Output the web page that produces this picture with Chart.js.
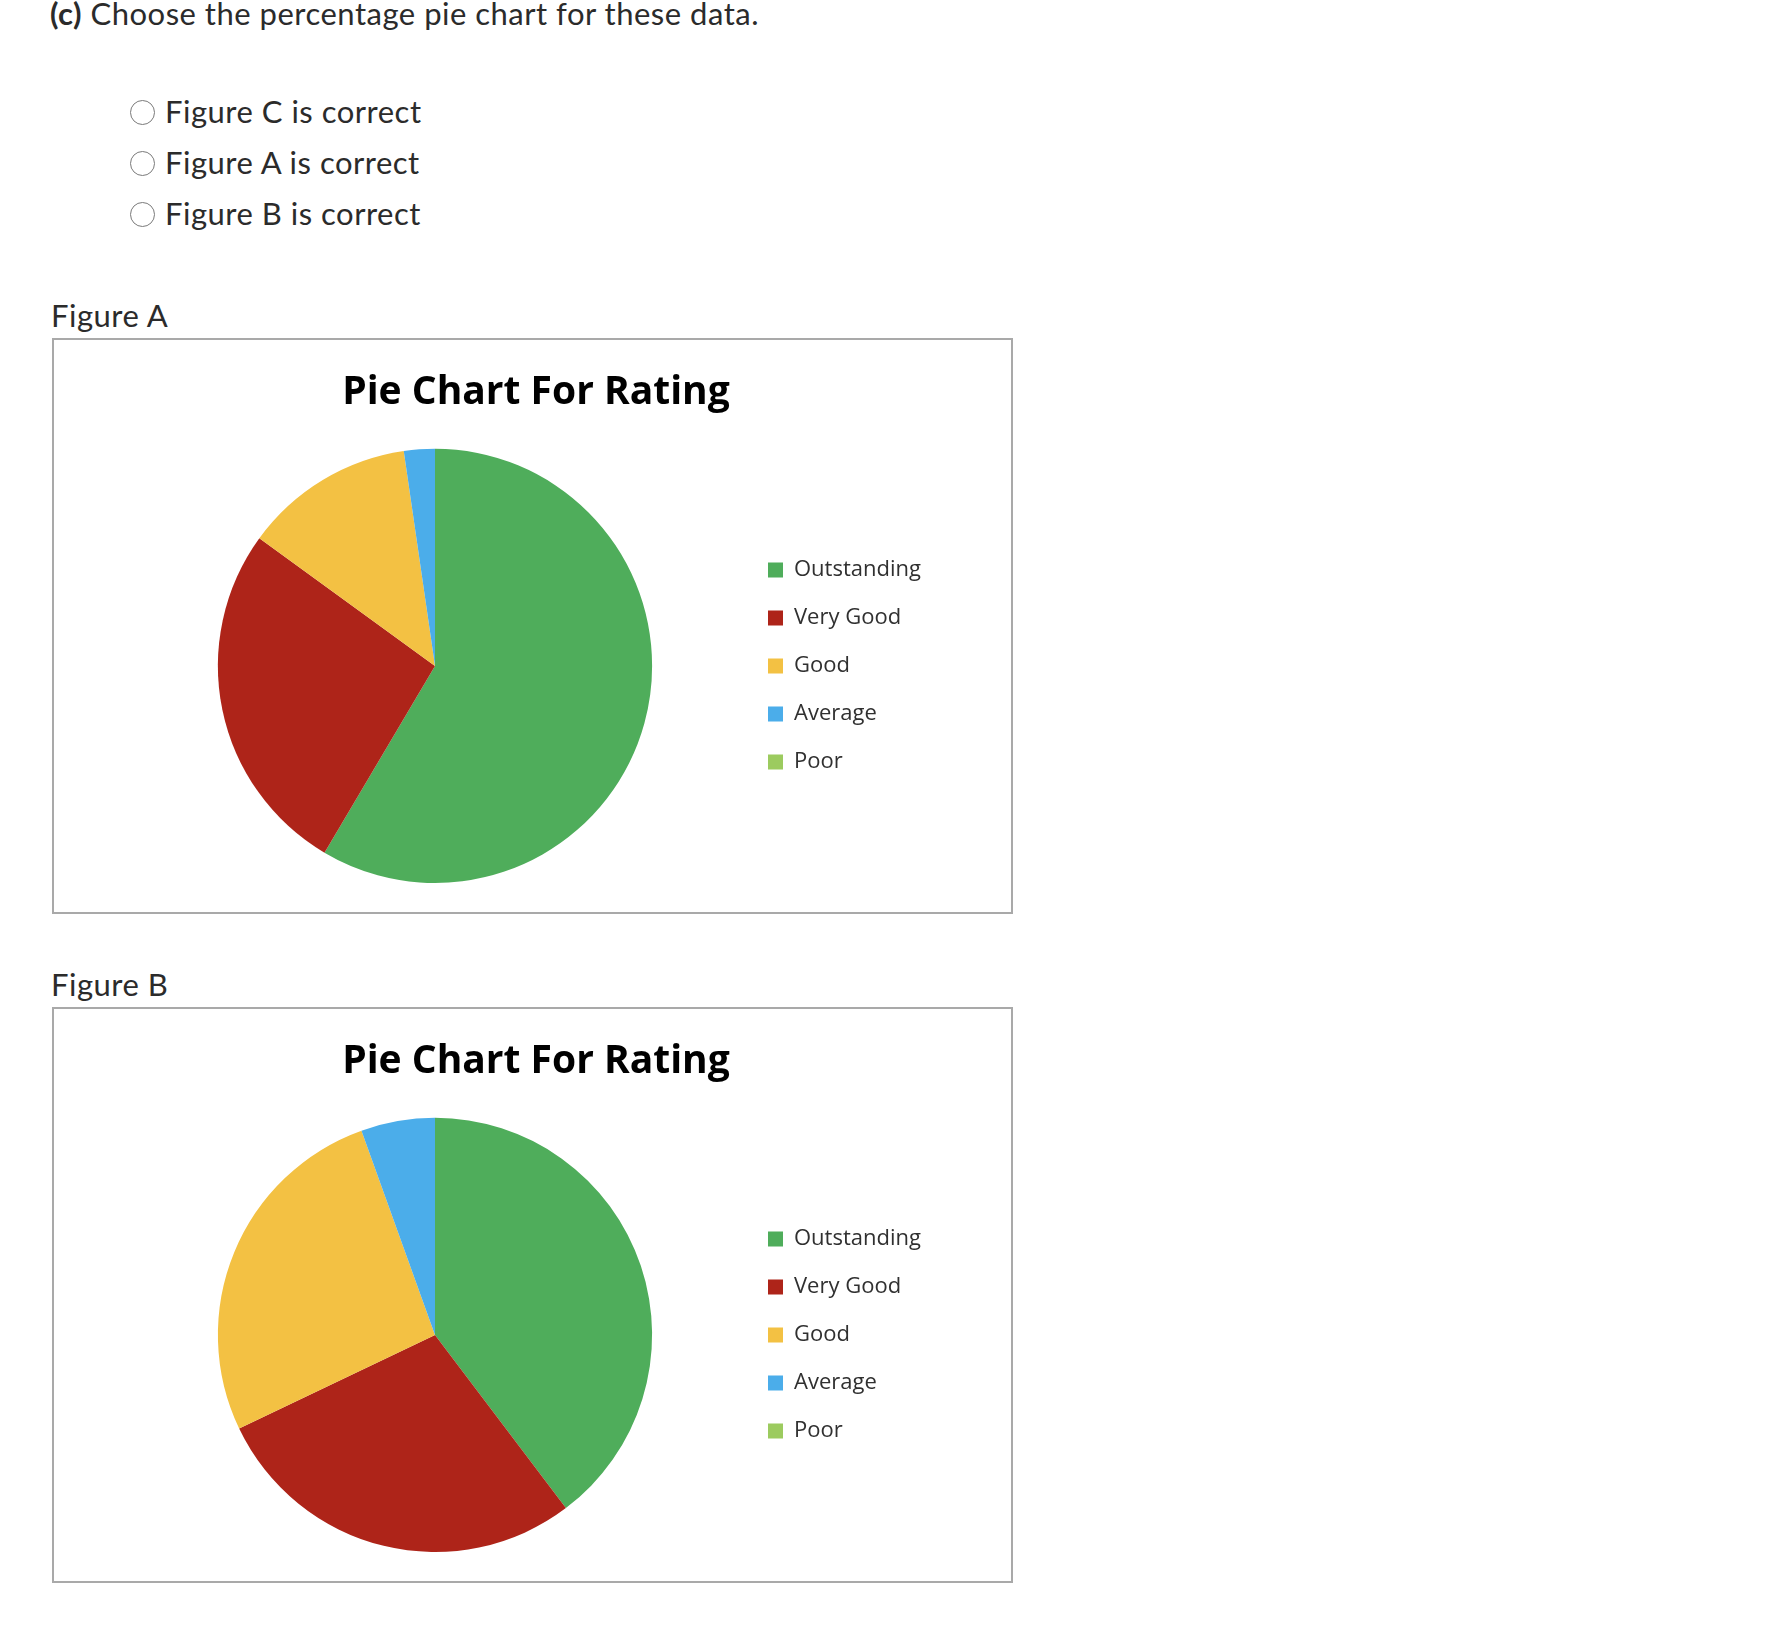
<!DOCTYPE html>
<html>
<head>
<meta charset="utf-8">
<script src="https://cdn.jsdelivr.net/npm/chart.js@4.4.0/dist/chart.umd.min.js"></script>
<style>
  body { margin: 0; background: #fff; width: 1780px; height: 1642px; position: relative; overflow: hidden; font-family: Lato, "Open Sans", sans-serif; color: #2b2b2b; }
  .txt { position: absolute; font-size: 31px; line-height: 31px; letter-spacing: 0.5px; white-space: nowrap; }
  .radio { position: absolute; width: 25px; height: 25px; box-sizing: border-box; border: 1.5px solid #7a7a7a; border-radius: 50%; }
  .box { position: absolute; left: 52px; width: 961px; height: 576px; box-sizing: border-box; border: 2px solid #a9a9a9; }
  .box canvas { position: absolute; left: 0; top: 0; }
</style>
</head>
<body>

<div class="txt" style="left:50px; top:-2px;"><b>(c)</b> Choose the percentage pie chart for these data.</div>

<div class="radio" style="left:130px; top:100px;"></div>
<div class="txt" style="left:165px; top:96px;">Figure C is correct</div>
<div class="radio" style="left:130px; top:151px;"></div>
<div class="txt" style="left:165px; top:147px;">Figure A is correct</div>
<div class="radio" style="left:130px; top:202px;"></div>
<div class="txt" style="left:165px; top:198px;">Figure B is correct</div>

<div class="txt" style="left:51px; top:300px;">Figure A</div>
<div class="box" style="top:338px;"><canvas id="chartA" width="957" height="572"></canvas></div>

<div class="txt" style="left:51px; top:969px;">Figure B</div>
<div class="box" style="top:1007px;"><canvas id="chartB" width="957" height="572"></canvas></div>

<script>
// categorias y colores (estilo Excel)
const ratings = ['Outstanding', 'Very Good', 'Good', 'Average', 'Poor'];
const ratingColors = ['#4fad5b', '#ae2419', '#f3c143', '#4badea', '#9ccb5f'];

const figureA = [58.5, 26.5, 12.7, 2.3, 0];
const figureB = [39.7, 28.2, 26.6, 5.5, 0];

const chartTitle = 'Pie Chart For Rating';

// ancho fijo para la leyenda, asi el pastel queda donde toca
const legendWidth = {
  id: 'legendWidth',
  beforeInit(chart) {
    const fitOriginal = chart.legend.fit;
    chart.legend.fit = function () {
      fitOriginal.call(this);
      this.width = 202;
    };
  }
};

function crearGrafica(id, valores) {
  const ctx = document.getElementById(id);
  return new Chart(ctx, {
    type: 'pie',
    data: {
      labels: ratings,
      datasets: [{
        data: valores,
        backgroundColor: ratingColors,
        borderWidth: 0
      }]
    },
    options: {
      responsive: false,
      animation: false,
      layout: {
        padding: { left: 74, right: 67, top: 0, bottom: 29 }
      },
      plugins: {
        title: {
          display: true,
          text: chartTitle,
          color: '#000',
          font: { family: '"Open Sans"', size: 39, weight: 'bold' },
          padding: { top: 29, bottom: 33 }
        },
        legend: {
          position: 'right',
          fullSize: false,
          labels: {
            boxWidth: 15,
            boxHeight: 15,
            padding: 26,
            color: '#303030',
            font: { family: '"Open Sans"', size: 22 }
          }
        },
        tooltip: { enabled: false }
      }
    },
    plugins: [legendWidth]
  });
}

crearGrafica('chartA', figureA);
crearGrafica('chartB', figureB);
</script>
</body>
</html>
